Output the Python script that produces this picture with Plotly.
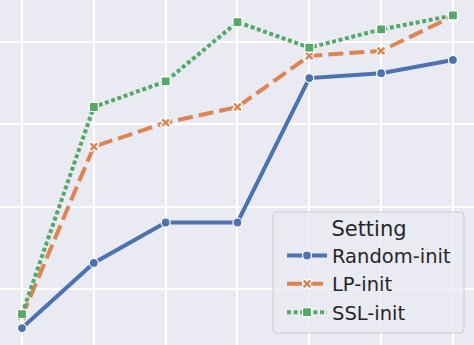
import plotly.graph_objects as go

steps = [0, 1, 2, 3, 4, 5, 6]
random_init = [35.3, 43.2, 48.1, 48.1, 65.6, 66.2, 67.8]
lp_init = [36.7, 57.3, 60.2, 62.1, 68.3, 68.9, 73.1]
ssl_init = [37.0, 62.1, 65.2, 72.4, 69.3, 71.5, 73.2]
names = ["Random-init", "LP-init", "SSL-init"]
colors = ["#4C72B0", "#DD8452", "#55A868"]
dashes = ["solid", "15px,6px", "4px,2.6px"]
symbols = ["circle", "x", "square"]

W, H = 474, 345

fig = go.Figure()
for name, vals, c, d, s in zip(names, [random_init, lp_init, ssl_init], colors, dashes, symbols):
    fig.add_trace(go.Scatter(
        x=steps, y=vals, name=name, mode="lines+markers", legendgroup=name,
        line=dict(color=c, width=4, dash=d),
        marker=dict(symbol=s, size=9, color=c, line=dict(color="white", width=1.2)),
    ))

# legend frame (rounded rectangle) in paper coordinates
bx0, bx1, by0, by1 = 273 / W, 464 / W, 1 - 333 / H, 1 - 212 / H
rx, ry = 4 / W, 4 / H
path = (f"M {bx0+rx},{by0} L {bx1-rx},{by0} Q {bx1},{by0} {bx1},{by0+ry} "
        f"L {bx1},{by1-ry} Q {bx1},{by1} {bx1-rx},{by1} L {bx0+rx},{by1} "
        f"Q {bx0},{by1} {bx0},{by1-ry} L {bx0},{by0+ry} Q {bx0},{by0} {bx0+rx},{by0} Z")
fig.add_shape(type="path", path=path, xref="paper", yref="paper", layer="above",
              fillcolor="rgba(234,234,242,0.8)", line=dict(color="#CCCCCC", width=1))

fig.update_layout(
    width=W, height=H,
    margin=dict(l=0, r=0, t=0, b=0),
    paper_bgcolor="#EAEAF2", plot_bgcolor="#EAEAF2",
    font=dict(family="DejaVu Sans", color="#262626"),
    xaxis=dict(range=[-0.306, 6.293], showticklabels=False, showgrid=True,
               gridcolor="white", gridwidth=2, zeroline=False, tickvals=steps),
    yaxis=dict(range=[33.25, 75.07], showticklabels=False, showgrid=True,
               gridcolor="white", gridwidth=2, zeroline=False, tickvals=[40, 50, 60, 70]),
    legend=dict(
        x=282 / W, y=1 - 209 / H, xanchor="left", yanchor="top",
        bgcolor="rgba(0,0,0,0)", borderwidth=0, itemwidth=40, tracegroupgap=0,
        font=dict(size=19.5, family="DejaVu Sans", color="#262626"),
        title=dict(text="Setting", side="top center", font=dict(size=21)),
    ),
    showlegend=True,
)
fig.write_html("out.html")
